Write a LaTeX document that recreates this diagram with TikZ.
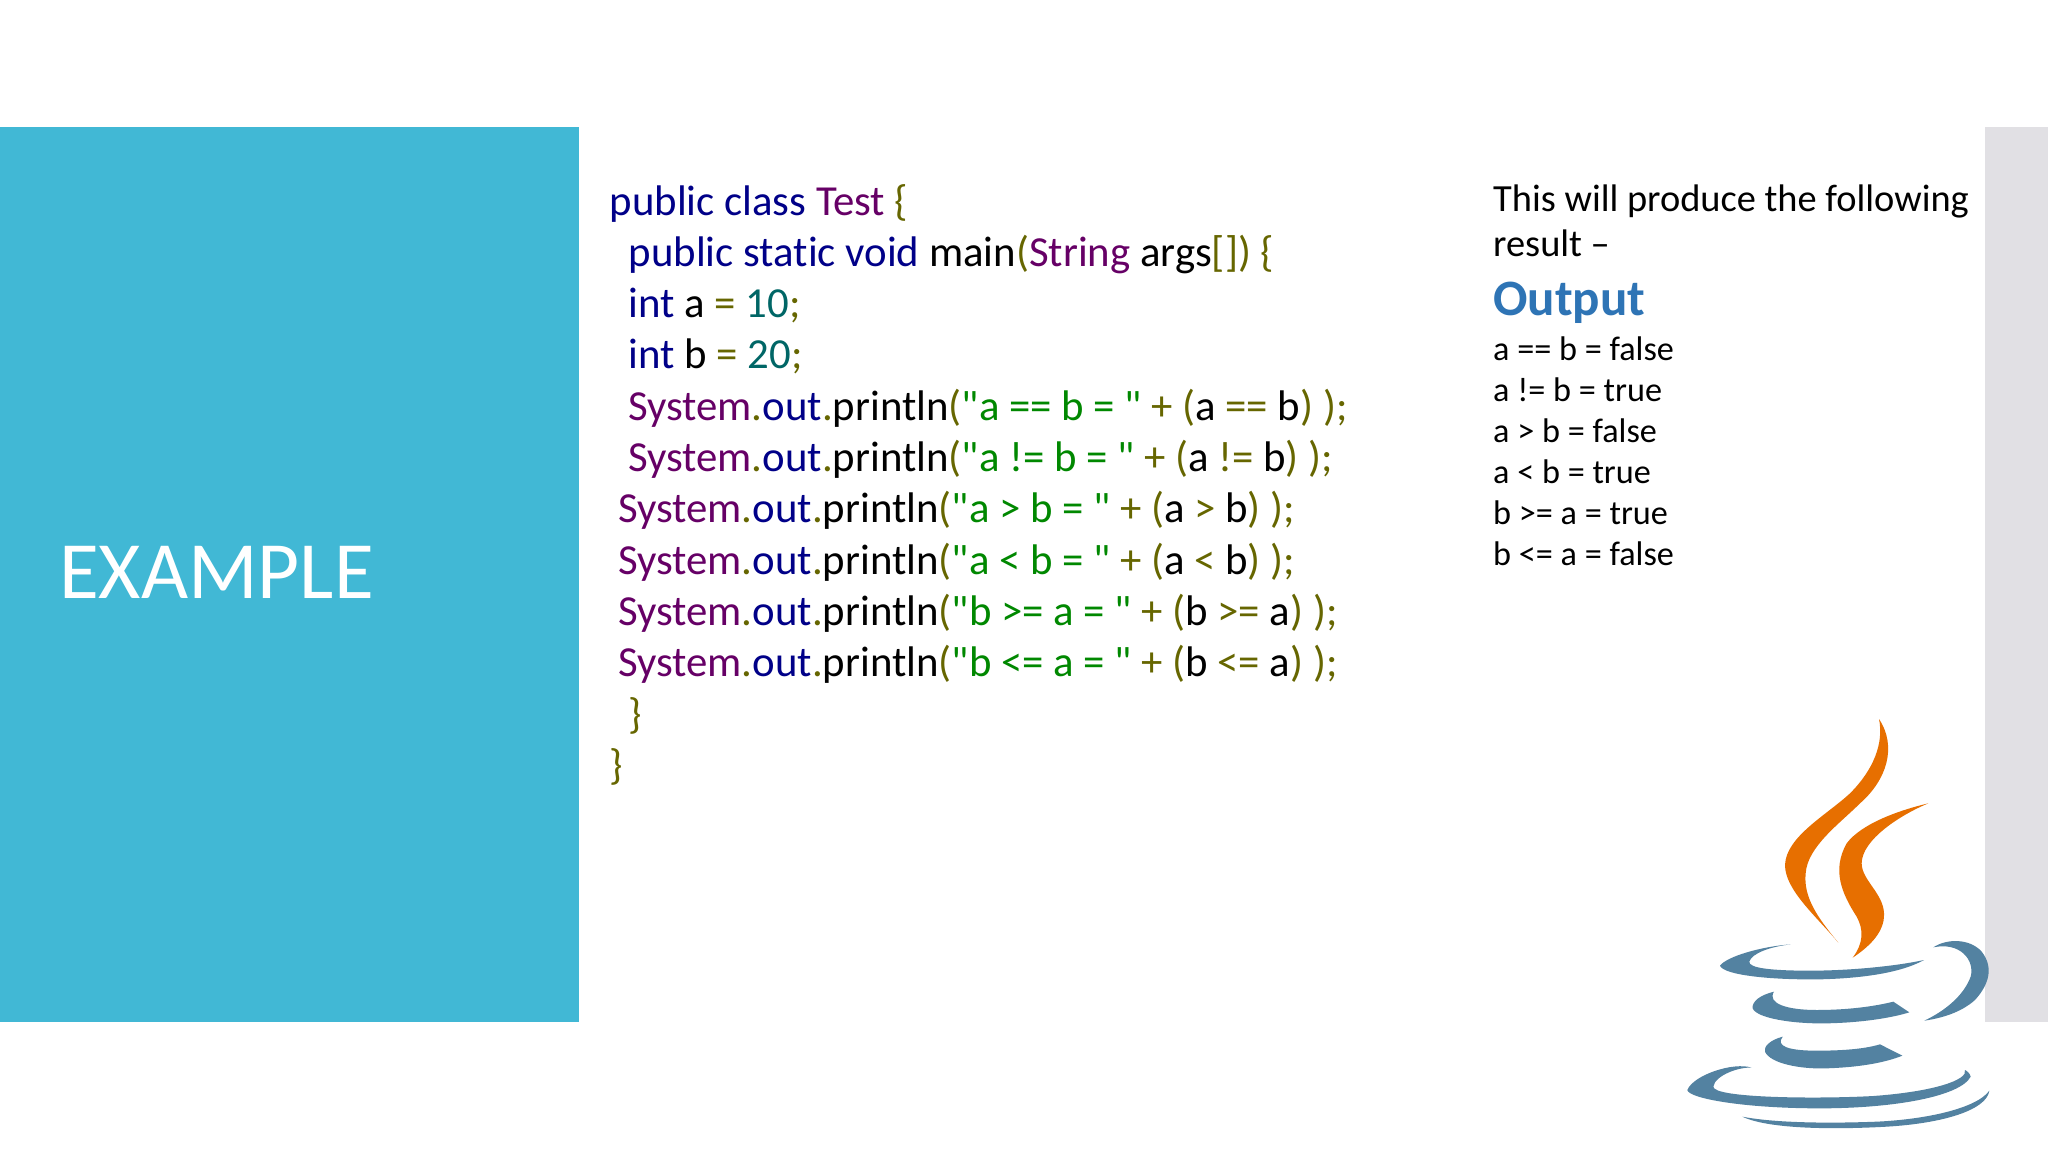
\documentclass[tikz,border=0pt]{standalone}
\usepackage{fontspec}
\setmainfont{Carlito}[Ligatures={TeXOff,CommonOff}]
\definecolor{panelteal}{HTML}{41B8D5}
\definecolor{sidegray}{HTML}{E1E0E4}
\definecolor{kwd}{HTML}{000088}
\definecolor{typ}{HTML}{660066}
\definecolor{strg}{HTML}{008800}
\definecolor{pun}{HTML}{666600}
\definecolor{lit}{HTML}{006666}
\definecolor{outblue}{HTML}{2E74B5}
\definecolor{flame}{HTML}{E76F00}
\definecolor{cupblue}{HTML}{5382A1}
\newcommand{\K}[1]{\textcolor{kwd}{#1}}
\newcommand{\Ty}[1]{\textcolor{typ}{#1}}
\newcommand{\St}[1]{\textcolor{strg}{#1}}
\newcommand{\Pu}[1]{\textcolor{pun}{#1}}
\newcommand{\Li}[1]{\textcolor{lit}{#1}}
\newcommand{\SOP}{\Ty{System}\Pu{.}\K{out}\Pu{.}println\Pu{(}}
\tikzset{
  codeline/.style={anchor=base west,inner sep=0pt,font=\fontsize{42.8}{50}\selectfont},
  resultline/.style={anchor=base west,inner sep=0pt,font=\fontsize{34.2}{40}\selectfont},
  introline/.style={anchor=base west,inner sep=0pt,font=\fontsize{38.4}{45}\selectfont},
  logoflame/.style={fill=flame,draw=none},
  logocup/.style={fill=cupblue,draw=none}
}
\begin{document}
\begin{tikzpicture}[x=1pt,y=-1pt]
\useasboundingbox (0,0) rectangle (2048,1152);
\fill[white] (0,0) rectangle (2048,1152);
\fill[panelteal] (0,127) rectangle (579,1022);
\fill[sidegray] (1985,127) rectangle (2048,1022);
\node[anchor=base west,inner sep=0pt,text=white,font=\fontsize{81.4}{90}\selectfont] (title) at (59,598.5) {EXAMPLE};

\node[codeline] (c1) at (609.5,215) {\K{public class} \Ty{Test} \Pu{\{}};
\node[codeline] (c2) at (628.5,266.3) {\K{public static void} main\Pu{(}\Ty{String} args\Pu{[])} \Pu{\{}};
\node[codeline] (c3) at (628.5,317.6) {\K{int} a \Pu{=} \Li{10}\Pu{;}};
\node[codeline] (c4) at (628.5,368.9) {\K{int} b \Pu{=} \Li{20}\Pu{;}};
\node[codeline] (c5) at (628,420.2) {\SOP\St{"a == b = "} \Pu{+ (}a \Pu{==} b\Pu{) );}};
\node[codeline] (c6) at (628,471.5) {\SOP\St{"a != b = "} \Pu{+ (}a \Pu{!=} b\Pu{) );}};
\node[codeline] (c7) at (618,522.8) {\SOP\St{"a > b = "} \Pu{+ (}a \Pu{>} b\Pu{) );}};
\node[codeline] (c8) at (618,574.1) {\SOP\St{"a < b = "} \Pu{+ (}a \Pu{<} b\Pu{) );}};
\node[codeline] (c9) at (618,625.4) {\SOP\St{"b >= a = "} \Pu{+ (}b \Pu{>=} a\Pu{) );}};
\node[codeline] (c10) at (618,676.7) {\SOP\St{"b <= a = "} \Pu{+ (}b \Pu{<=} a\Pu{) );}};
\node[codeline] (c11) at (628.5,728) {\Pu{\}}};
\node[codeline] (c12) at (609.5,779.3) {\Pu{\}}};

\node[introline] (i1) at (1493,211) {This will produce the following};
\node[introline] (i2) at (1493,256.5) {result –};
\node[anchor=base west,inner sep=0pt,text=outblue,font=\fontsize{51}{58}\selectfont\bfseries] (o) at (1493,315) {Output};
\node[resultline] (r1) at (1493,360) {a == b = false};
\node[resultline] (r2) at (1493,401) {a != b = true};
\node[resultline] (r3) at (1493,442) {a > b = false};
\node[resultline] (r4) at (1493,483) {a < b = true};
\node[resultline] (r5) at (1493,524) {b >= a = true};
\node[resultline] (r6) at (1493,565) {b <= a = false};

\begin{scope}[shift={(1660,700)},x=0.33333pt,y=-0.33333pt]
\fill[logoflame] (657,57) .. controls (672,130) and (640,210) .. (570,280)
  .. controls (500,345) and (378,410) .. (375,495)
  .. controls (375,570) and (470,650) .. (535,728)
  .. controls (470,650) and (430,590) .. (437,520)
  .. controls (442,440) and (540,370) .. (600,310)
  .. controls (680,240) and (712,140) .. (657,57) -- cycle;
\fill[logoflame] (805,310) .. controls (720,345) and (605,420) .. (605,490)
  .. controls (605,540) and (670,580) .. (672,640)
  .. controls (675,700) and (620,745) .. (578,773)
  .. controls (610,730) and (612,690) .. (590,650)
  .. controls (545,580) and (515,510) .. (560,430)
  .. controls (605,370) and (720,330) .. (805,310) -- cycle;
\fill[logocup] (392,733) .. controls (300,740) and (200,770) .. (180,797)
  .. controls (190,825) and (330,840) .. (480,838)
  .. controls (600,835) and (720,820) .. (792,780)
  .. controls (700,800) and (560,812) .. (450,812)
  .. controls (340,812) and (265,805) .. (268,785)
  .. controls (275,760) and (330,740) .. (392,733) -- cycle;
\fill[logocup] (820,742) .. controls (860,715) and (930,715) .. (965,755)
  .. controls (1000,800) and (990,850) .. (945,900)
  .. controls (900,940) and (840,955) .. (793,962)
  .. controls (850,935) and (910,890) .. (932,830)
  .. controls (945,780) and (900,725) .. (820,742) -- cycle;
\fill[logocup] (342,875) .. controls (300,885) and (275,905) .. (278,925)
  .. controls (290,955) and (400,972) .. (500,970)
  .. controls (600,968) and (690,955) .. (748,937)
  -- (700,905)
  .. controls (640,920) and (560,930) .. (470,930)
  .. controls (380,930) and (320,910) .. (342,875) -- cycle;
\fill[logocup] (368,1010) .. controls (330,1020) and (310,1040) .. (315,1055)
  .. controls (330,1090) and (420,1108) .. (500,1105)
  .. controls (590,1102) and (670,1090) .. (727,1067)
  -- (660,1033)
  .. controls (610,1048) and (540,1052) .. (470,1052)
  .. controls (390,1052) and (345,1040) .. (368,1010) -- cycle;
\fill[logocup] (275,1103) .. controls (220,1085) and (100,1125) .. (82,1170)
  .. controls (85,1195) and (250,1225) .. (480,1225)
  .. controls (700,1225) and (900,1190) .. (932,1130)
  .. controls (930,1120) and (920,1112) .. (915,1110)
  .. controls (925,1140) and (820,1175) .. (640,1188)
  .. controls (480,1197) and (160,1195) .. (160,1160)
  .. controls (165,1125) and (240,1100) .. (275,1103) -- cycle;
\fill[logocup] (247,1250) .. controls (350,1270) and (520,1270) .. (650,1265)
  .. controls (800,1258) and (950,1225) .. (988,1172)
  .. controls (980,1230) and (850,1270) .. (680,1280)
  .. controls (500,1290) and (320,1285) .. (247,1250) -- cycle;
\end{scope}
\end{tikzpicture}
\end{document}
